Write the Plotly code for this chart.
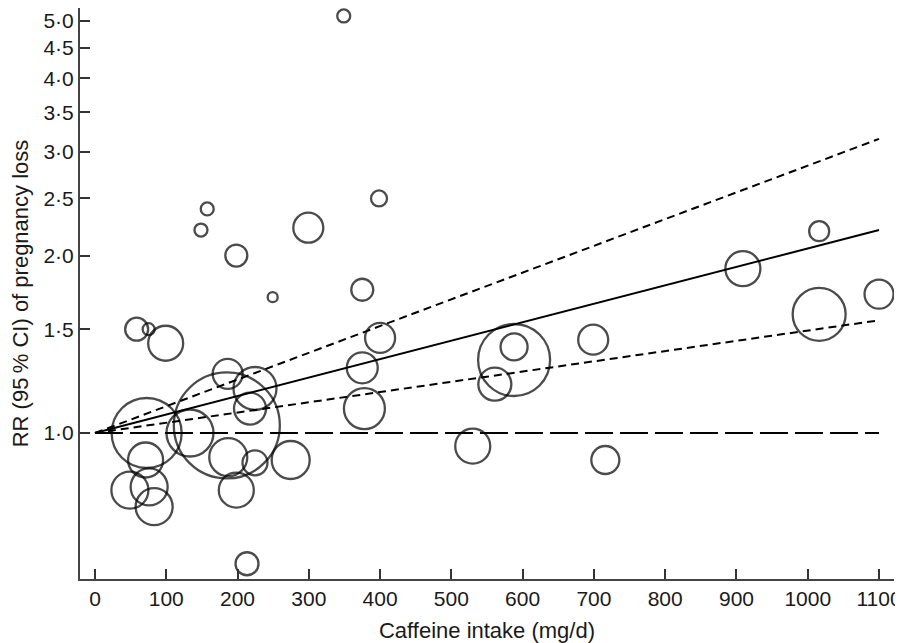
import plotly.graph_objects as go

# Study estimates: caffeine dose (mg/d), RR, and study weight (bubble diameter)
caffeine = [349, 157.5, 148.7, 198.3, 249.3, 58.5, 75.3, 99.2, 186.2, 224.5,
            217.5, 72.5, 133.3, 185, 71, 49, 76, 83, 187, 224.5,
            274.6, 198.3, 213.3, 398.5, 299.3, 375, 400, 375, 378, 588,
            588, 561, 530, 699, 1016, 909, 1016, 1100, 716]
rr = [5.10, 2.40, 2.21, 2.00, 1.70, 1.50, 1.50, 1.42, 1.26, 1.19,
      1.10, 1.00, 1.00, 1.03, 0.90, 0.80, 0.81, 0.75, 0.91, 0.89,
      0.90, 0.80, 0.60, 2.50, 2.23, 1.75, 1.45, 1.29, 1.10, 1.33,
      1.40, 1.21, 0.95, 1.44, 2.20, 1.90, 1.59, 1.72, 0.90]
weight = [13, 13, 13, 22, 10, 23, 12, 35, 30, 43,
          32, 70, 47, 106, 35, 37, 37, 37, 38, 25,
          38, 35, 23, 16, 30, 22, 30, 31, 41, 72,
          27, 33, 35, 30, 20, 35, 53, 29, 28]

# Dose-response fit and 95% CI
fit_x = [0, 1100]
fit_rr = [1.0, 2.21]
upper_rr = [1.0, 3.155]
lower_rr = [1.0, 1.553]
ref_rr = [1.0, 1.0]

ytick_vals = [1.0, 1.5, 2.0, 2.5, 3.0, 3.5, 4.0, 4.5, 5.0]
ytick_text = ["1·0", "1·5", "2·0", "2·5", "3·0", "3·5", "4·0", "4·5", "5·0"]
xtick_vals = list(range(0, 1101, 100))

fig = go.Figure()

fig.add_trace(go.Scatter(
    x=fit_x, y=ref_rr, mode="lines",
    line=dict(color="black", width=2, dash="28px,7px"),
))
fig.add_trace(go.Scatter(
    x=fit_x, y=upper_rr, mode="lines",
    line=dict(color="black", width=2, dash="8px,5px"),
))
fig.add_trace(go.Scatter(
    x=fit_x, y=lower_rr, mode="lines",
    line=dict(color="black", width=2, dash="8px,5px"),
))
fig.add_trace(go.Scatter(
    x=fit_x, y=fit_rr, mode="lines",
    line=dict(color="black", width=2),
))
fig.add_trace(go.Scatter(
    x=caffeine, y=rr, mode="markers",
    marker=dict(size=weight, sizemode="diameter", sizeref=1,
                color="rgba(0,0,0,0)",
                line=dict(color="black", width=2.3)),
))

# the page body adds an 8px margin, so the figure is 8px smaller
font = "Liberation Sans, Arial, sans-serif"
fig.update_layout(
    width=895, height=635,
    margin=dict(l=72, r=9, t=0, b=64),
    paper_bgcolor="white", plot_bgcolor="white",
    showlegend=False,
    font=dict(family=font, size=21, color="#1a1a1a"),
    xaxis=dict(
        range=[-21, 1121], tickvals=xtick_vals, automargin=False,
        ticks="inside", ticklen=10, tickwidth=1.5, tickcolor="#333333",
        showline=True, linecolor="#444444", linewidth=2,
        showgrid=False, zeroline=False,
        title=dict(text="Caffeine intake (mg/d)", standoff=13,
                   font=dict(size=22)),
    ),
    yaxis=dict(
        type="log", range=[-0.2477, 0.7211], automargin=False,
        tickvals=ytick_vals, ticktext=ytick_text,
        ticks="inside", ticklen=10, tickwidth=1.5, tickcolor="#333333",
        showline=True, linecolor="#444444", linewidth=2,
        showgrid=False, zeroline=False,
        title=dict(text="RR (95\u2009% CI) of pregnancy loss", standoff=16,
                   font=dict(size=22)),
    ),
)

fig.write_html("out.html")
